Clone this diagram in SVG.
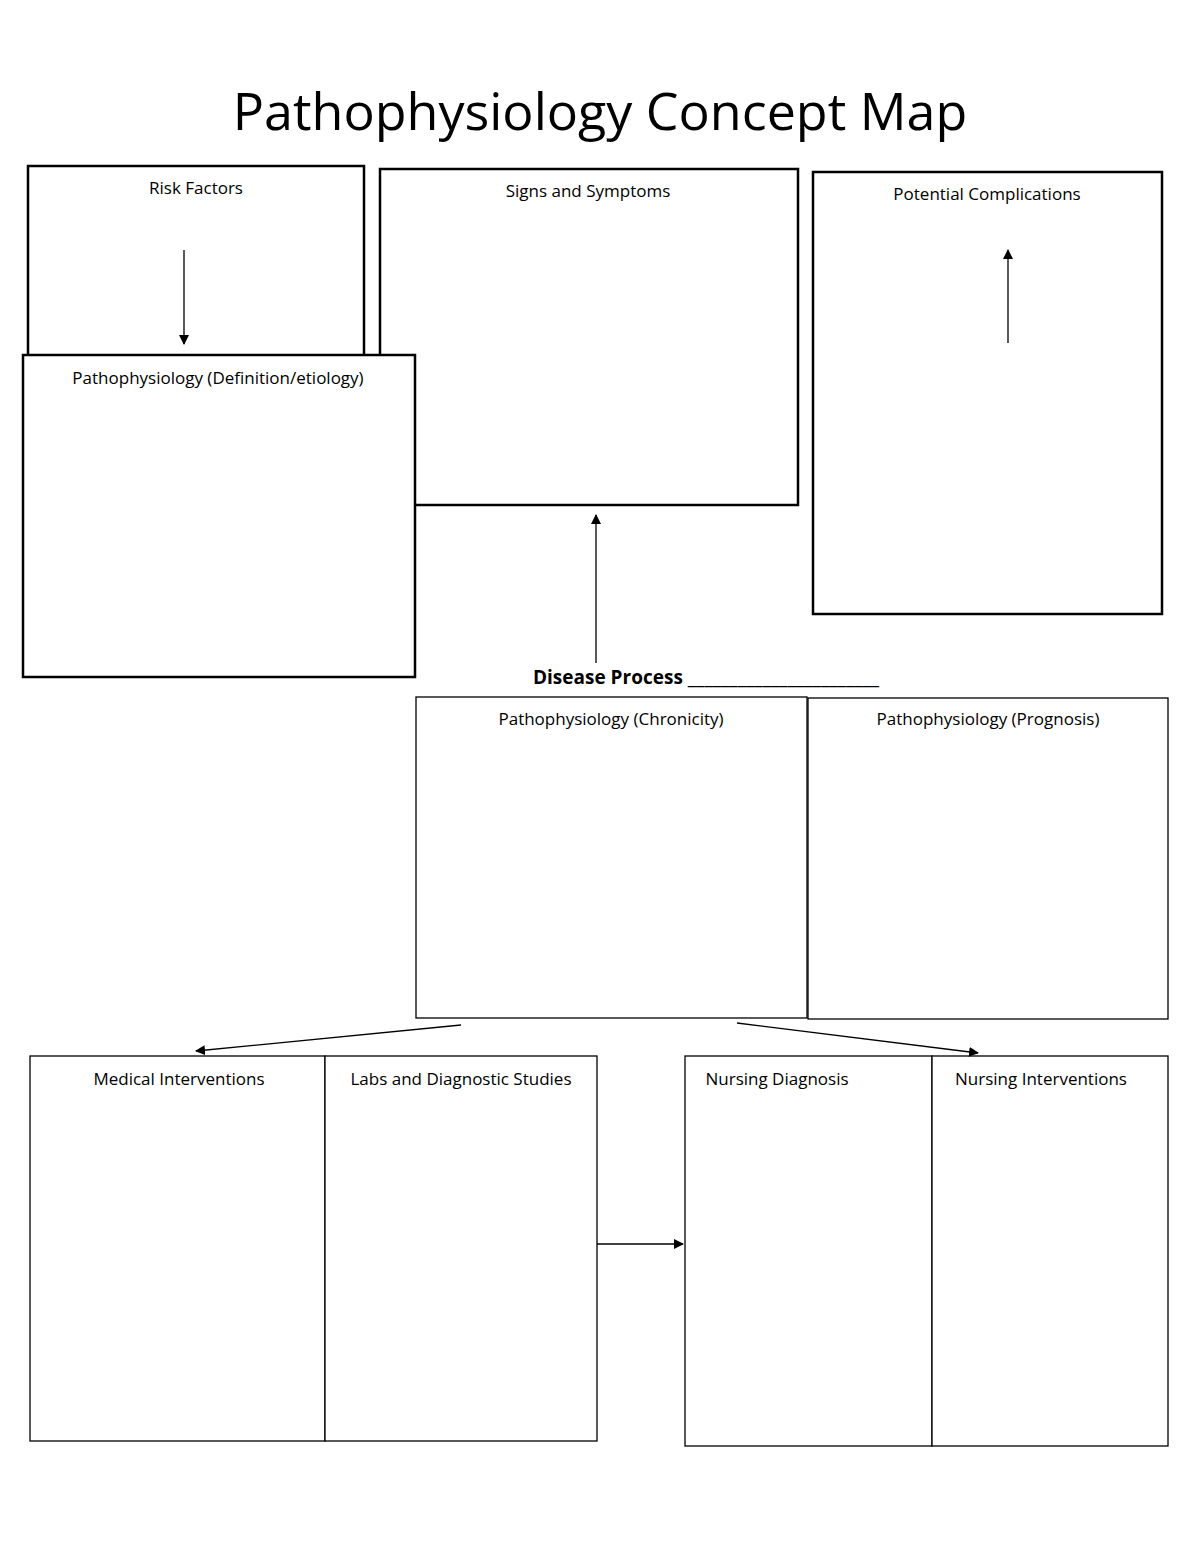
<svg xmlns="http://www.w3.org/2000/svg" width="1200" height="1553" viewBox="0 0 1200 1553">
<defs>
<style>
.t{font-family:"Open Sans","DejaVu Sans",sans-serif;font-size:17px;fill:#000;text-anchor:middle}
.thick{fill:#fff;stroke:#000;stroke-width:2.5}
.thin{fill:#fff;stroke:#000;stroke-width:1.3}
.c{stroke:#000;stroke-width:1.3;fill:none;marker-end:url(#ah)}
</style>
<marker id="ah" viewBox="0 0 10 10" refX="9" refY="5" markerWidth="10" markerHeight="10" markerUnits="userSpaceOnUse" orient="auto"><path d="M0,0L10,5L0,10z" fill="#000"/></marker>
</defs>
<rect width="1200" height="1553" fill="#fff"/>
<text x="600" y="130" style="font-family:'Open Sans','DejaVu Sans',sans-serif;font-size:52px;text-anchor:middle">Pathophysiology Concept Map</text>
<g id="risk"><rect class="thick" x="28" y="166" width="336" height="190"/><text class="t" x="196" y="194">Risk Factors</text></g>
<g id="signs"><rect class="thick" x="380" y="169" width="418" height="336"/><text class="t" x="588" y="197">Signs and Symptoms</text></g>
<g id="complications"><rect class="thick" x="813" y="172" width="349" height="442"/><text class="t" x="987" y="200">Potential Complications</text></g>
<g id="definition"><rect class="thick" x="23" y="355" width="392" height="322"/><text class="t" x="218" y="384">Pathophysiology (Definition/etiology)</text></g>
<g id="disease"><text x="533" y="684" style="font-family:'Open Sans','DejaVu Sans',sans-serif;font-size:19px;font-weight:bold">Disease Process <tspan font-weight="normal">_______________________</tspan></text></g>
<g id="chronicity"><rect class="thin" x="416" y="697" width="391" height="321"/><text class="t" x="611" y="725">Pathophysiology (Chronicity)</text></g>
<g id="prognosis"><rect class="thin" x="808" y="698" width="360" height="321"/><text class="t" x="988" y="725">Pathophysiology (Prognosis)</text></g>
<g id="medical"><rect class="thin" x="30" y="1056" width="295" height="385"/><text class="t" x="179" y="1085">Medical Interventions</text></g>
<g id="labs"><rect class="thin" x="325" y="1056" width="272" height="385"/><text class="t" x="461" y="1085">Labs and Diagnostic Studies</text></g>
<g id="nursingdx"><rect class="thin" x="685" y="1056" width="247" height="390"/><text class="t" x="777" y="1085">Nursing Diagnosis</text></g>
<g id="nursingint"><rect class="thin" x="932" y="1056" width="236" height="390"/><text class="t" x="1041" y="1085">Nursing Interventions</text></g>
<g id="connectors">
<line class="c" x1="184" y1="250" x2="184" y2="344"/>
<line class="c" x1="1008" y1="343" x2="1008" y2="250"/>
<line class="c" x1="596" y1="663" x2="596" y2="515"/>
<line class="c" x1="461" y1="1025" x2="196" y2="1051"/>
<line class="c" x1="737" y1="1023" x2="978" y2="1053"/>
<line class="c" x1="597" y1="1244" x2="683" y2="1244"/>
</g>
</svg>
